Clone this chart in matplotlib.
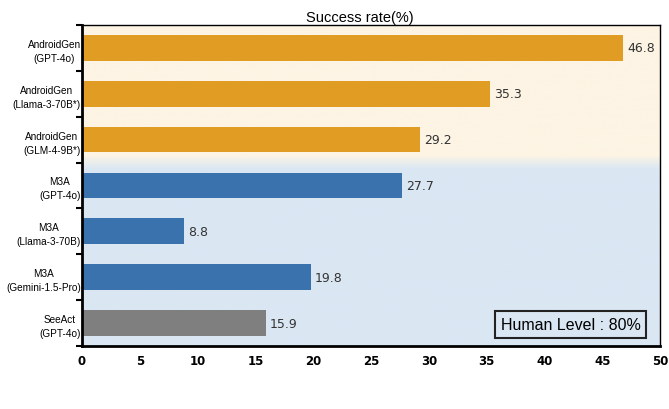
import matplotlib.pyplot as plt
import numpy as np

labels = ['AndroidGen\n(GPT-4o)', 'AndroidGen\n(Llama-3-70B*)', 'AndroidGen\n(GLM-4-9B*)',
          'M3A\n(GPT-4o)', 'M3A\n(Llama-3-70B)', 'M3A\n(Gemini-1.5-Pro)', 'SeeAct\n(GPT-4o)']
rates = [46.8, 35.3, 29.2, 27.7, 8.8, 19.8, 15.9]
groups = ['AndroidGen', 'AndroidGen', 'AndroidGen', 'M3A', 'M3A', 'M3A', 'SeeAct']
xticks = [0, 5, 10, 15, 20, 25, 30, 35, 40, 45, 50]

colors = {'AndroidGen': '#E19C23', 'M3A': '#3A72AD', 'SeeAct': '#7F7F7F'}

fig = plt.figure(figsize=(6.69, 4.10), dpi=100)
ax = fig.add_axes([0.1226, 0.1537, 0.864, 0.783])

y = np.arange(len(labels))

# background: cream for AndroidGen rows, light blue below, soft blend between
cream = np.array([253, 244, 228]) / 255
blue = np.array([218, 231, 243]) / 255
rows = np.linspace(-0.5, 6.5, 400)
t = np.clip((rows - 2.35) / 0.3, 0, 1)[:, None]
bg = cream * (1 - t) + blue * t
ax.imshow(bg[:, None, :], extent=[0, 50, 6.5, -0.5], aspect='auto', zorder=0)

ax.barh(y, rates, height=0.56, color=[colors[g] for g in groups], zorder=2)
for yi, r in zip(y, rates):
    ax.text(r + 0.35, yi, f'{r}', va='center', ha='left', fontsize=9,
            color='#333333', family='DejaVu Sans', zorder=3)

ax.set_xlim(0, 50)
ax.set_ylim(6.5, -0.5)
ax.set_yticks(y)
ax.set_yticklabels(labels, fontsize=7.2, family='Liberation Sans', linespacing=1.5,
                   multialignment='center')
ax.set_yticks(np.arange(-0.5, 7, 1), minor=True)
ax.tick_params(axis='y', which='major', length=0, pad=1)
ax.tick_params(axis='y', which='minor', length=4, width=1.5)
ax.set_xticks(xticks)
ax.set_xticklabels([str(v) for v in xticks], fontsize=8.5, fontweight='bold',
                   family='DejaVu Sans')
ax.tick_params(axis='x', length=0, pad=6)

for s in ['left', 'bottom']:
    ax.spines[s].set_linewidth(2)
for s in ['top', 'right']:
    ax.spines[s].set_linewidth(1)

ax.set_title('Success rate(%)', fontsize=10.5, family='Liberation Sans', pad=3, x=0.48)

ax.text(0.845, 0.067, 'Human Level : 80%', transform=ax.transAxes, ha='center', va='center',
        fontsize=11.5, family='Liberation Sans', zorder=4,
        bbox=dict(boxstyle='square,pad=0.35', fc='none', ec='#222222', lw=1.5))

fig.savefig('out.png', dpi=100)
